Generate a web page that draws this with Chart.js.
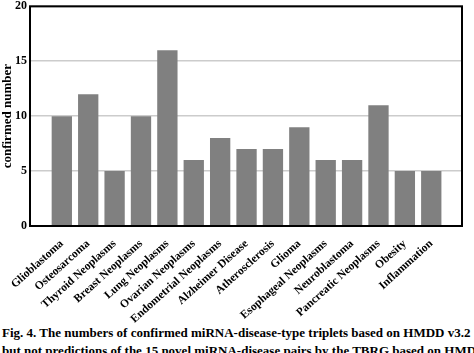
<!DOCTYPE html>
<html>
<head>
<meta charset="utf-8">
<script src="https://cdn.jsdelivr.net/npm/chart.js@4/dist/chart.umd.min.js"></script>
<style>
  body { margin: 0; background: #fff; width: 474px; height: 353px; overflow: hidden; position: relative; }
  #wrap { position: absolute; left: 0; top: 0; width: 474px; height: 324px; }
  .cap { position: absolute; left: 2px; white-space: nowrap; font-family: "Liberation Serif", serif; font-weight: bold; font-size: 13px; color: #000; }
</style>
</head>
<body>
<div id="wrap"><canvas id="c"></canvas></div>
<div class="cap" style="top:325px">Fig. 4. The numbers of confirmed miRNA-disease-type triplets based on HMDD v3.2</div>
<div class="cap" style="top:343px">but not predictions of the 15 novel miRNA-disease pairs by the TBRG based on HMDD v2.0</div>
<script>
// данные с картинки
const diseases = ['Glioblastoma', 'Osteosarcoma', 'Thyroid Neoplasms', 'Breast Neoplasms', 'Lung Neoplasms',
  'Ovarian Neoplasms', 'Endometrial Neoplasms', 'Alzheimer Disease', 'Atherosclerosis', 'Glioma',
  'Esophageal Neoplasms', 'Neuroblastoma', 'Pancreatic Neoplasms', 'Obesity', 'Inflammation'];
const confirmed = [10, 12, 5, 10, 16, 6, 8, 7, 7, 9, 6, 6, 11, 5, 5];
const yTicks = [0, 5, 10, 15, 20];

const serif = '"Liberation Serif", "Times New Roman", serif';

// рамка вокруг области графика
const frame = {
  id: 'frame',
  afterDatasetsDraw(chart) {
    const a = chart.chartArea, ctx = chart.ctx;
    ctx.save();
    ctx.strokeStyle = '#000';
    ctx.lineWidth = 2;
    ctx.strokeRect(a.left, a.top, a.right - a.left, a.bottom - a.top);
    ctx.restore();
  }
};

new Chart(document.getElementById('c'), {
  type: 'bar',
  data: {
    datasets: [{
      data: confirmed.map((v, i) => ({ x: i, y: v })),
      backgroundColor: '#808080',
      borderWidth: 0,
      barPercentage: 0.77,
      categoryPercentage: 1
    }]
  },
  options: {
    responsive: true,
    maintainAspectRatio: false,
    animation: false,
    layout: { padding: { top: 0, right: 12, left: 0, bottom: 0 } },
    plugins: { legend: { display: false }, tooltip: { enabled: false } },
    scales: {
      x: {
        type: 'linear',
        offset: false,
        min: -1.206,
        max: 15.165,
        grid: { display: false },
        border: { display: false },
        afterBuildTicks: s => { s.ticks = diseases.map((_, i) => ({ value: i })); },
        afterFit: s => { s.height = 98; },
        ticks: {
          autoSkip: false,
          minRotation: 42,
          maxRotation: 42,
          padding: 3,
          color: '#000',
          font: { family: serif, weight: 'bold', size: 11.5 },
          callback: v => diseases[v]
        }
      },
      y: {
        min: 0,
        max: 20,
        afterBuildTicks: s => { s.ticks = yTicks.map(v => ({ value: v })); },
        afterFit: s => { s.width = 30; },
        grid: { color: '#cccccc', lineWidth: 1.5, drawTicks: false },
        border: { display: false },
        ticks: {
          padding: 3,
          color: '#000',
          font: { family: serif, weight: 'bold', size: 12, lineHeight: 0.55 }
        },
        title: {
          display: true,
          text: 'confirmed number',
          color: '#000',
          padding: 0,
          font: { family: serif, weight: 'bold', size: 13 }
        }
      }
    }
  },
  plugins: [frame]
});
</script>
</body>
</html>
